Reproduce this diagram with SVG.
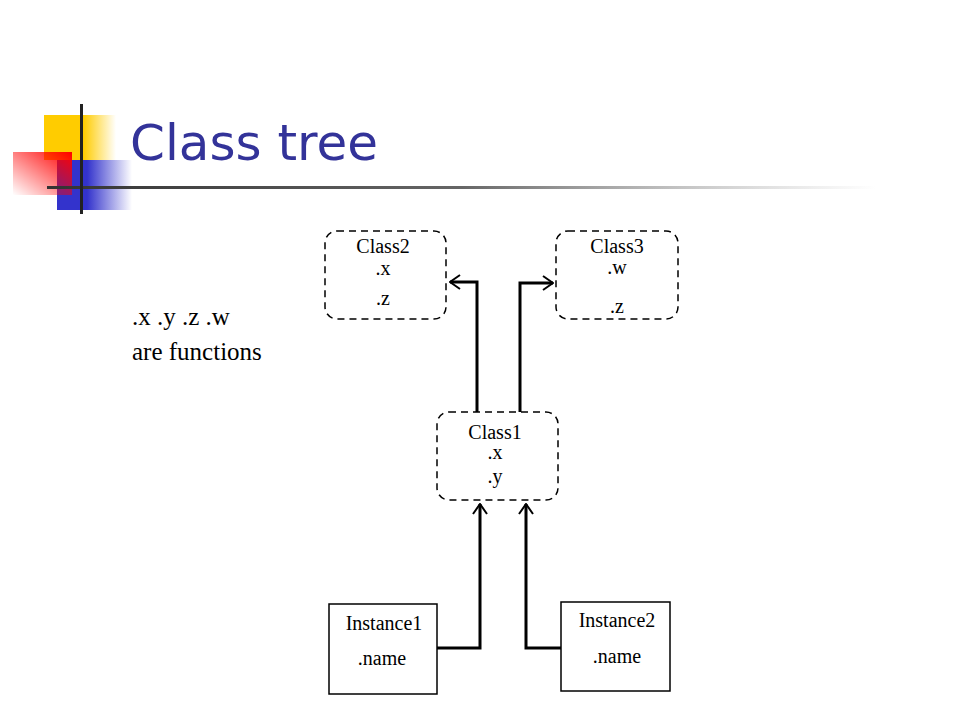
<svg xmlns="http://www.w3.org/2000/svg" width="960" height="720" viewBox="0 0 960 720">
<defs>
<linearGradient id="gy" x1="0" x2="1"><stop offset="0.55" stop-color="#ffcc00"/><stop offset="1" stop-color="#ffcc00" stop-opacity="0"/></linearGradient>
<linearGradient id="gb" x1="0" x2="1"><stop offset="0.4" stop-color="#3333cc"/><stop offset="1" stop-color="#3333cc" stop-opacity="0"/></linearGradient>
<linearGradient id="gr" x1="1" y1="0" x2="0" y2="1"><stop offset="0" stop-color="#ff0000"/><stop offset="1" stop-color="#ff0000" stop-opacity="0"/></linearGradient>
<linearGradient id="gl" x1="0" x2="1"><stop offset="0" stop-color="#333"/><stop offset="0.5" stop-color="#666"/><stop offset="1" stop-color="#999" stop-opacity="0"/></linearGradient>
<marker id="ah" viewBox="0 0 12 16" refX="11" refY="8" markerWidth="12" markerHeight="16" markerUnits="userSpaceOnUse" orient="auto"><path d="M1 1 L11 8 L1 15" fill="none" stroke="#000" stroke-width="2"/></marker>
</defs>
<style>
.cls{fill:#fff;stroke:#000;stroke-width:1.5;stroke-dasharray:7,5}
.ins{fill:#fff;stroke:#000;stroke-width:1.5}
.t{font-family:"Liberation Serif",serif;font-size:20px;text-anchor:middle;fill:#000}
.c{fill:none;stroke:#000;stroke-width:3}
</style>
<rect width="960" height="720" fill="#fff"/>
<g id="logo">
<rect x="44" y="115" width="72" height="45" fill="url(#gy)"/>
<rect x="57" y="160" width="75" height="50" fill="url(#gb)"/>
<rect x="13" y="152" width="59" height="43" fill="url(#gr)"/>
<rect x="47" y="186" width="830" height="3" fill="url(#gl)"/>
<rect x="80" y="104" width="3" height="110" fill="#222"/>
</g>
<text x="130" y="160" font-family="Tahoma,'DejaVu Sans',sans-serif" font-size="50" fill="#333399">Class tree</text>
<g id="note" font-family="Liberation Serif,serif" font-size="25" fill="#000">
<text x="132" y="325">.x .y .z .w</text>
<text x="132" y="360">are functions</text>
</g>
<g id="class2"><rect class="cls" x="325" y="231" width="121" height="88" rx="12"/>
<text class="t" x="383" y="253">Class2</text><text class="t" x="383" y="275">.x</text><text class="t" x="383" y="305">.z</text></g>
<g id="class3"><rect class="cls" x="556" y="231" width="122" height="88" rx="12"/>
<text class="t" x="617" y="253">Class3</text><text class="t" x="617" y="274">.w</text><text class="t" x="617" y="313">.z</text></g>
<g id="class1"><rect class="cls" x="437" y="412" width="121" height="88" rx="12"/>
<text class="t" x="495" y="439">Class1</text><text class="t" x="495" y="459">.x</text><text class="t" x="495" y="483">.y</text></g>
<g id="instance1"><rect class="ins" x="329" y="604" width="108" height="90"/>
<text class="t" x="384" y="630">Instance1</text><text class="t" x="382" y="665">.name</text></g>
<g id="instance2"><rect class="ins" x="561" y="602" width="109" height="89"/>
<text class="t" x="617" y="627">Instance2</text><text class="t" x="617" y="663">.name</text></g>
<g id="connectors">
<path class="c" d="M477 412 V282 H450" marker-end="url(#ah)"/>
<path class="c" d="M520 412 V283 H553" marker-end="url(#ah)"/>
<path class="c" d="M437 648 H480 V504" marker-end="url(#ah)"/>
<path class="c" d="M561 648 H526 V504" marker-end="url(#ah)"/>
</g>
</svg>
